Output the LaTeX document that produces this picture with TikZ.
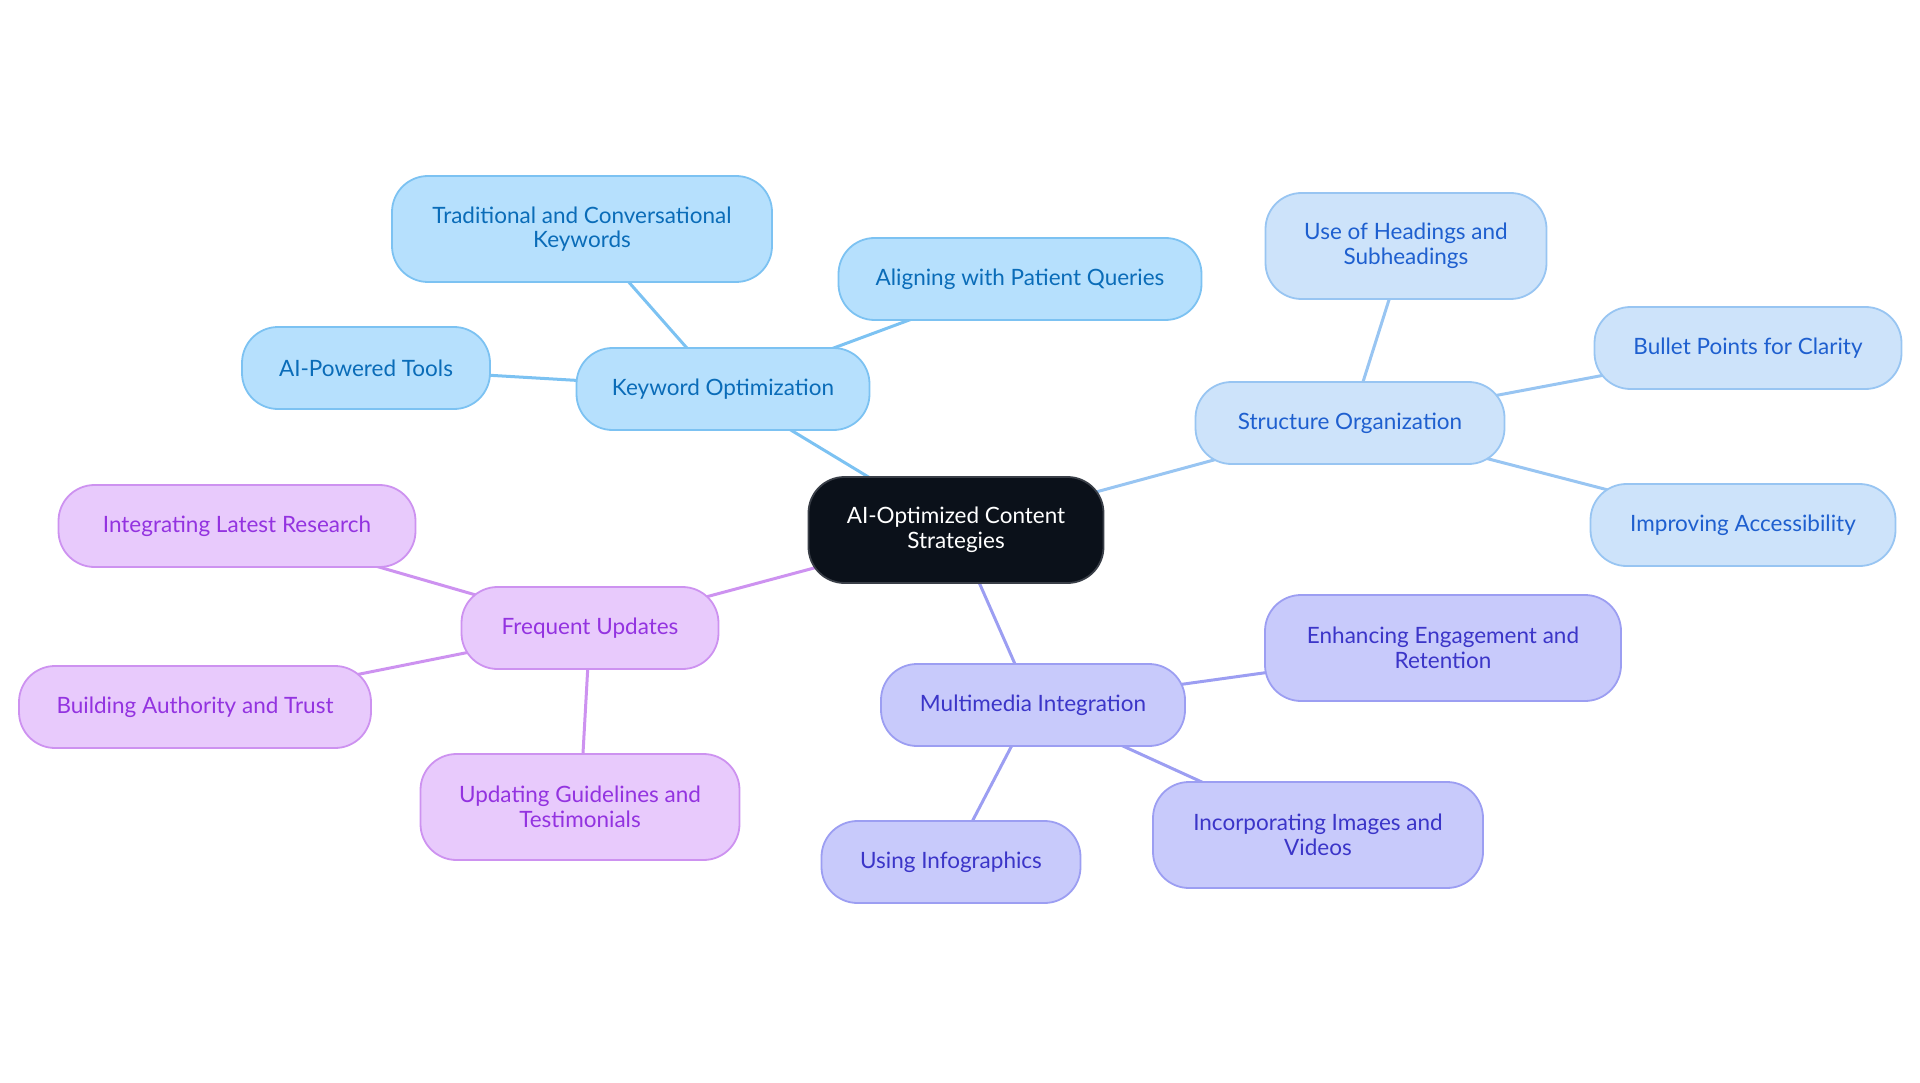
\documentclass[tikz,border=0pt]{standalone}
\usepackage{fontspec}
\setmainfont{Lato}
\usetikzlibrary{backgrounds}
\definecolor{kwfill}{HTML}{B6E0FD}
\definecolor{kwdraw}{HTML}{7CC2F2}
\definecolor{kwtext}{HTML}{0A6CB8}
\definecolor{stfill}{HTML}{CDE3FA}
\definecolor{stdraw}{HTML}{98C5F2}
\definecolor{sttext}{HTML}{1E5FCF}
\definecolor{mmfill}{HTML}{C8CAFB}
\definecolor{mmdraw}{HTML}{9C9EF2}
\definecolor{mmtext}{HTML}{3B35C8}
\definecolor{fqfill}{HTML}{E8CAFC}
\definecolor{fqdraw}{HTML}{CD92F0}
\definecolor{fqtext}{HTML}{9333E0}
\definecolor{ctfill}{HTML}{0B111A}
\definecolor{ctdraw}{HTML}{3A3F48}
\tikzset{
  box/.style={font=\fontsize{22.5}{24.5}\selectfont, align=center, inner sep=0pt,
    rounded corners=36pt, line width=1.8pt, minimum height=82pt},
  twoline/.style={minimum height=106pt},
  kwbox/.style={box, fill=kwfill, draw=kwdraw, text=kwtext},
  stbox/.style={box, fill=stfill, draw=stdraw, text=sttext},
  mmbox/.style={box, fill=mmfill, draw=mmdraw, text=mmtext},
  fqbox/.style={box, fill=fqfill, draw=fqdraw, text=fqtext},
  ctbox/.style={box, twoline, fill=ctfill, draw=ctdraw, text=white},
  link/.style={line width=3pt},
}
\begin{document}
\begin{tikzpicture}[x=1pt,y=-1pt]
\useasboundingbox (0,0) rectangle (1920,1083);
\node[ctbox, minimum width=295pt] (ct) at (956,530) {AI-Optimized Content\\Strategies};
\node[kwbox, minimum width=293pt] (kwo) at (723,389) {Keyword Optimization};
\node[kwbox, minimum width=248pt] (aip) at (366,368) {AI-Powered Tools};
\node[kwbox, twoline, minimum width=380pt] (trad) at (582,229) {Traditional and Conversational\\Keywords};
\node[kwbox, minimum width=363pt] (alig) at (1020,279) {Aligning with Patient Queries};
\node[stbox, minimum width=309pt] (stru) at (1350,423) {Structure Organization};
\node[stbox, twoline, minimum width=281pt] (head) at (1406,246) {Use of Headings and\\Subheadings};
\node[stbox, minimum width=307pt] (bull) at (1748,348) {Bullet Points for Clarity};
\node[stbox, minimum width=305pt] (impr) at (1743,525) {Improving Accessibility};
\node[fqbox, minimum width=257pt] (freq) at (590,628) {Frequent Updates};
\node[fqbox, minimum width=357pt] (integ) at (237,526) {Integrating Latest Research};
\node[fqbox, minimum width=352pt] (build) at (195,707) {Building Authority and Trust};
\node[fqbox, twoline, minimum width=319pt] (upd) at (580,807) {Updating Guidelines and\\Testimonials};
\node[mmbox, minimum width=304pt] (mm) at (1033,705) {Multimedia Integration};
\node[mmbox, twoline, minimum width=356pt] (enh) at (1443,648) {Enhancing Engagement and\\Retention};
\node[mmbox, twoline, minimum width=330pt] (inc) at (1318,835) {Incorporating Images and\\Videos};
\node[mmbox, minimum width=259pt] (info) at (951,862) {Using Infographics};
\begin{scope}[on background layer]
\draw[link, kwdraw] (ct.center) -- (kwo.center);
\draw[link, kwdraw] (kwo.center) -- (aip.center);
\draw[link, kwdraw] (kwo.center) -- (trad.center);
\draw[link, kwdraw] (kwo.center) -- (alig.center);
\draw[link, stdraw] (ct.center) -- (stru.center);
\draw[link, stdraw] (stru.center) -- (head.center);
\draw[link, stdraw] (stru.center) -- (bull.center);
\draw[link, stdraw] (stru.center) -- (impr.center);
\draw[link, fqdraw] (ct.center) -- (freq.center);
\draw[link, fqdraw] (freq.center) -- (integ.center);
\draw[link, fqdraw] (freq.center) -- (build.center);
\draw[link, fqdraw] (freq.center) -- (upd.center);
\draw[link, mmdraw] (ct.center) -- (mm.center);
\draw[link, mmdraw] (mm.center) -- (enh.center);
\draw[link, mmdraw] (mm.center) -- (inc.center);
\draw[link, mmdraw] (mm.center) -- (info.center);
\end{scope}
\end{tikzpicture}
\end{document}
